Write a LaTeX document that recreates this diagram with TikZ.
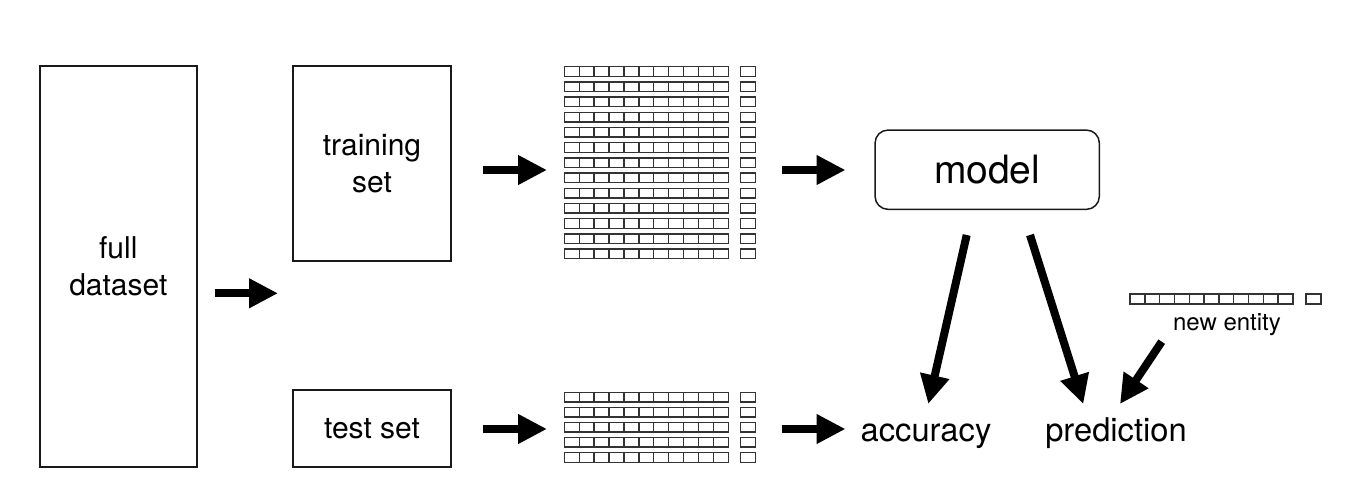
\documentclass[tikz,border=0pt]{standalone}
\usepackage{fontspec}
\setmainfont{TeX Gyre Heros}
\usetikzlibrary{arrows.meta}
\begin{document}
\begin{tikzpicture}[x=1pt,y=-1pt,
  box/.style={draw=black!90, line width=2pt, inner sep=0pt, align=center},
  lbl/.style={inner sep=0pt, anchor=base},
  bigarrow/.style={line width=8pt, -{Triangle[length=29pt,width=28pt]}},
  cell/.style={draw=black!80, line width=1.4pt}]
\useasboundingbox (0,0) rectangle (1358,485);
% boxes
\node[box, minimum width=156.7pt, minimum height=400.7pt, font=\fontsize{30}{37.5}\selectfont] (full) at (118.3,266.3) {full\\dataset};
\node[box, minimum width=157.4pt, minimum height=194.7pt, font=\fontsize{30}{37.5}\selectfont] (train) at (372,163.5) {training\\set};
\node[box, minimum width=157.4pt, minimum height=77.3pt, font=\fontsize{30}{37.5}\selectfont] (test) at (372,428.7) {test set};
\node[box, line width=1.5pt, rounded corners=13pt, minimum width=224.3pt, minimum height=79.3pt, font=\fontsize{39}{45}\selectfont] (model) at (987.2,169.7) {model};
\node[lbl, font=\fontsize{32.7}{38}\selectfont] (acc) at (926,441.7) {accuracy};
\node[lbl, font=\fontsize{32.7}{38}\selectfont] (pred) at (1116,441.7) {prediction};
\node[lbl, font=\fontsize{24}{28}\selectfont] (newlabel) at (1227,330) {new entity};
% training grid
\foreach \r in {0,...,12} {
  \foreach \c in {0,...,10}
    \draw[cell] ({564.3+\c*14.9},{66.7+\r*15.2}) rectangle ++(14.9,9.5);
  \draw[cell] (740.3,{66.7+\r*15.2}) rectangle ++(15.4,9.5);
}
% test grid
\foreach \r in {0,...,4} {
  \foreach \c in {0,...,10}
    \draw[cell] ({564.3+\c*14.9},{392.3+\r*15.1}) rectangle ++(14.9,9.5);
  \draw[cell] (740.3,{392.3+\r*15.1}) rectangle ++(15.4,9.5);
}
% new entity grid
\foreach \c in {0,...,10}
  \draw[cell] ({1130+\c*14.8},294) rectangle ++(14.8,10);
\draw[cell] (1306,294) rectangle ++(15,10);
% arrow endpoints
\coordinate (fullout) at (215,293.3);
\coordinate (splitin) at (278,293.3);
\coordinate (trainout) at (483,170);
\coordinate (traingridin) at (547,170);
\coordinate (traingridout) at (782,170);
\coordinate (modelin) at (845.5,170);
\coordinate (testout) at (483,429);
\coordinate (testgridin) at (547,429);
\coordinate (testgridout) at (782,429);
\coordinate (accin) at (845.5,429);
\coordinate (modelout1) at (966.7,235);
\coordinate (accin2) at (928.3,404);
\coordinate (modelout2) at (1030,235);
\coordinate (predin) at (1083.3,404);
\coordinate (newout) at (1161.7,341.7);
\coordinate (predin2) at (1120,404);
% arrows
\draw[bigarrow] (fullout) -- (splitin);
\draw[bigarrow] (trainout) -- (traingridin);
\draw[bigarrow] (traingridout) -- (modelin);
\draw[bigarrow] (testout) -- (testgridin);
\draw[bigarrow] (testgridout) -- (accin);
\draw[bigarrow] (modelout1) -- (accin2);
\draw[bigarrow] (modelout2) -- (predin);
\draw[bigarrow] (newout) -- (predin2);
\end{tikzpicture}
\end{document}
